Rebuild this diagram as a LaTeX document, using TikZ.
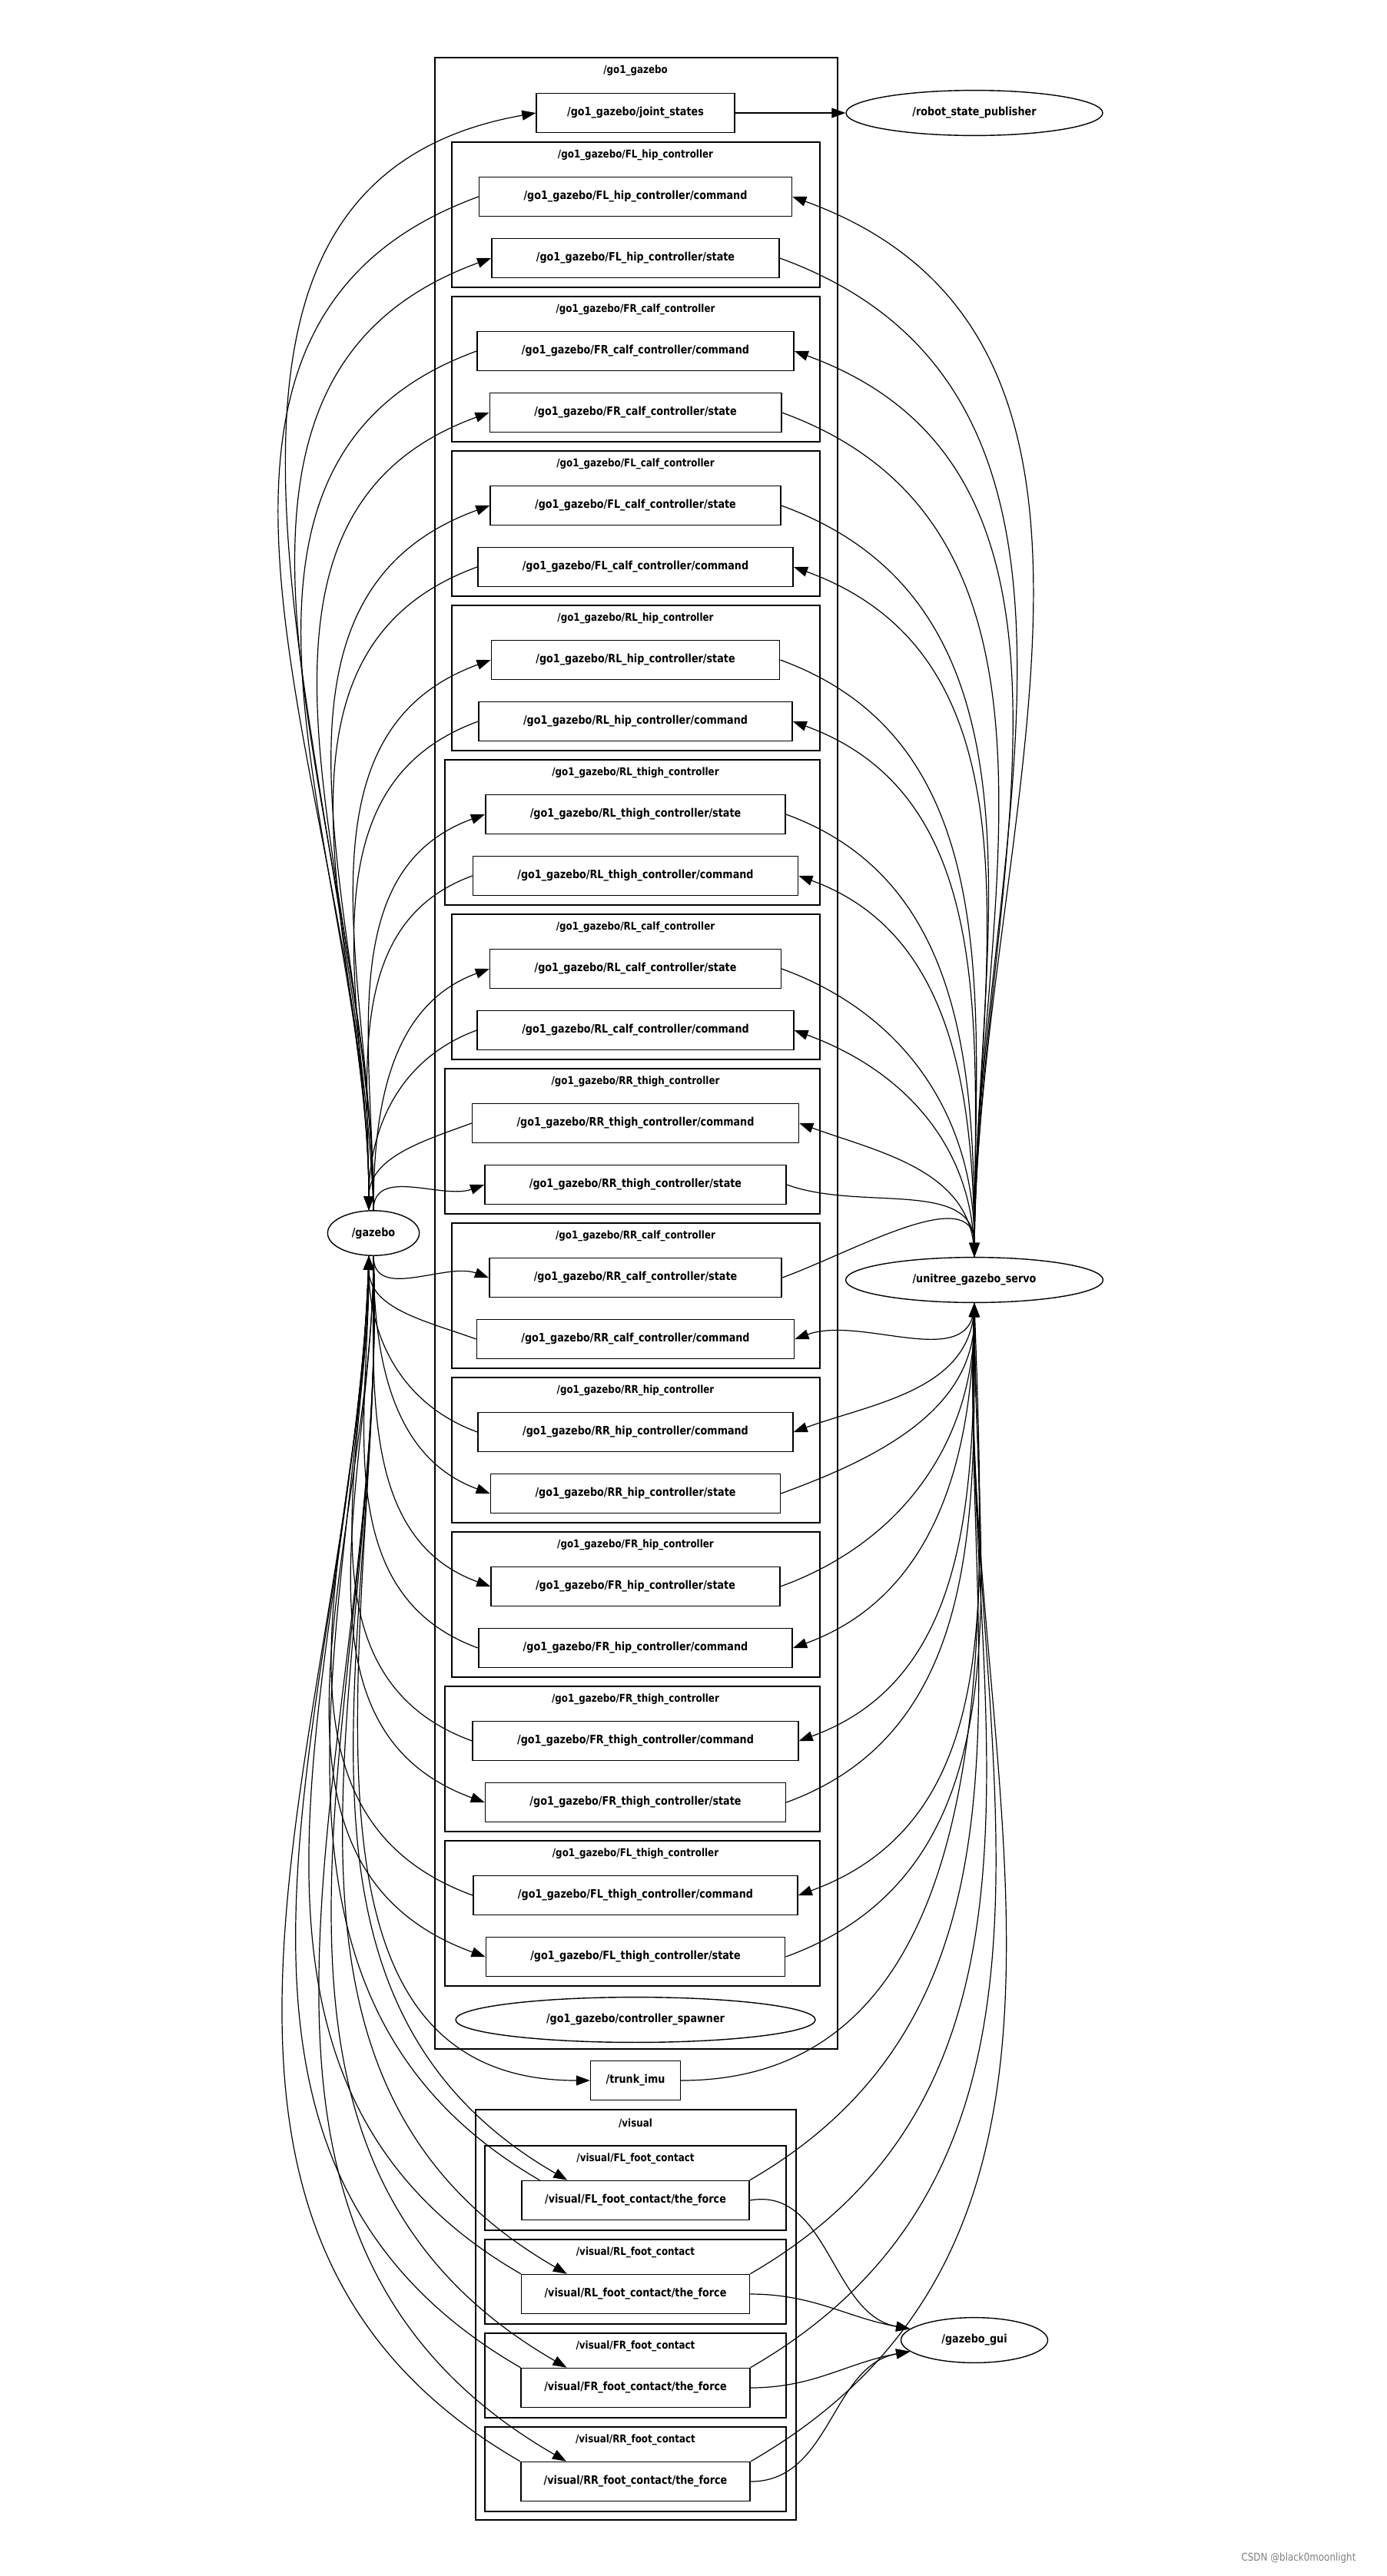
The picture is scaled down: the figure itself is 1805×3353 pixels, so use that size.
\documentclass[tikz,border=0pt]{standalone}
\usepackage{fontspec}
\setmainfont{DejaVu Sans}[FakeStretch=0.85]
\usetikzlibrary{arrows.meta,shapes.geometric}
\begin{document}
\begin{tikzpicture}[x=0.25pt,y=-0.25pt,
  every node/.style={font=\bfseries\fontsize{3.75}{4.5}\selectfont},
  topic/.style={draw,line width=0.4pt,rectangle,minimum height=12.75pt,inner xsep=14.5pt},
  nd/.style={draw,line width=0.35pt,ellipse,minimum height=12.75pt,inner xsep=3.5pt},
  clus/.style={draw,line width=0.3pt},
  clab/.style={font=\bfseries\fontsize{3.5}{4}\selectfont},
  arr/.style={line width=0.3pt,-{Triangle[length=4.5pt,width=3.25pt]}},
  ln/.style={line width=0.3pt}]
\useasboundingbox (0,0) rectangle (1805,3353);
% outer clusters
\draw[clus] (566,75) rectangle (1090,2667);
\node[clab] at (827,92) {/go1\_gazebo};
\draw[clus] (619,2746) rectangle (1036,3280);
\node[clab] at (827,2764) {/visual};
% main nodes
\node[nd] (gazebo) at (486,1605) {/gazebo};
\node[nd,minimum width=83.75pt] (servo) at (1268,1666) {/unitree\_gazebo\_servo};
\node[nd,minimum width=83.5pt] (rsp) at (1268,147) {/robot\_state\_publisher};
\node[nd,minimum width=47.75pt] (gui) at (1268,3046) {/gazebo\_gui};
\node[topic,inner xsep=10pt] (js) at (827,147) {/go1\_gazebo/joint\_states};
\node[nd,minimum width=117pt] (spawn) at (827,2629) {/go1\_gazebo/controller\_spawner};
\node[topic,inner xsep=5pt] (imu) at (827,2708) {/trunk\_imu};
\draw[arr] (gazebo.north) to[out=92,in=190] (js.west);
\draw[arr] (js) -- (rsp);
\draw[arr] (gazebo.south) to[out=-88,in=180] (imu.west);
\draw[arr] (imu.east) to[out=0,in=-88] (servo.south);
% controller clusters
\foreach \i/\nm/\o/\w in {0/FL\_hip/0/0,1/FR\_calf/0/0,2/FL\_calf/1/0,3/RL\_hip/1/0,
  4/RL\_thigh/1/1,5/RL\_calf/1/0,6/RR\_thigh/0/1,7/RR\_calf/1/0,8/RR\_hip/0/0,
  9/FR\_hip/1/0,10/FR\_thigh/0/1,11/FL\_thigh/0/1}{
  \pgfmathsetmacro\top{185+201*\i}
  \pgfmathsetmacro\yc{\top+71+80*\o}
  \pgfmathsetmacro\ys{\top+151-80*\o}
  \pgfmathsetmacro\hw{239+9*\w}
  \draw[clus] (827-\hw,\top) rectangle (1067,\top+189);
  \node[clab] at (827,\top+17) {/go1\_gazebo/\nm\_controller};
  \node[topic] (cmd\i) at (827,\yc) {/go1\_gazebo/\nm\_controller/command};
  \node[topic] (st\i) at (827,\ys) {/go1\_gazebo/\nm\_controller/state};
  \pgfmathsetmacro\gc{\yc<1605?90:-90}
  \pgfmathsetmacro\gs{\ys<1605?90:-90}
  \pgfmathsetmacro\ic{\ys<1605?200:160}
  \pgfmathsetmacro\sc{\yc<1666?90:-90}
  \pgfmathsetmacro\ss{\ys<1666?90:-90}
  \pgfmathsetmacro\ec{\yc<1666?-20:20}
  \draw[arr] (gazebo.\gs) to[out=\gs,in=\ic] (st\i.west);
  \draw[arr] (cmd\i.west) to[out=\ic,in=\gc] ([xshift=-1.5pt]gazebo.\gc);
  \draw[arr] (servo.\sc) to[out=\sc,in=\ec] (cmd\i.east);
  \draw[arr] (st\i.east) to[out=\ec,in=\ss] (servo.\ss);
}
% visual foot contacts
\foreach \j/\f/\sx/\oo/\ii in {0/FL/6/10/170,1/RL/0/0/170,2/FR/0/0/190,3/RR/0/0/190}{
  \pgfmathsetmacro\vt{2793+122*\j}
  \draw[clus] (631,\vt) rectangle (1023,\vt+110);
  \node[clab] at (827,\vt+17) {/visual/\f\_foot\_contact};
  \node[topic,inner xsep=7.5pt] (ff\j) at (827,\vt+71) {/visual/\f\_foot\_contact/the\_force};
  \draw[arr] (gazebo.south) to[out=-88,in=150] ([xshift=15pt]ff\j.north west);
  \draw[arr] ([xshift=\sx pt]ff\j.north west) to[out=150,in=-92] ([xshift=-1.5pt]gazebo.south);
  \draw[arr] (ff\j.north east) to[out=30,in=-92] (servo.south);
  \draw[arr] (ff\j.east) to[out=\oo,in=\ii] (gui);
}
\node[font=\fontsize{3.5}{4}\selectfont,text=gray] at (1690,3330) {CSDN @black0moonlight};
\end{tikzpicture}
\end{document}
